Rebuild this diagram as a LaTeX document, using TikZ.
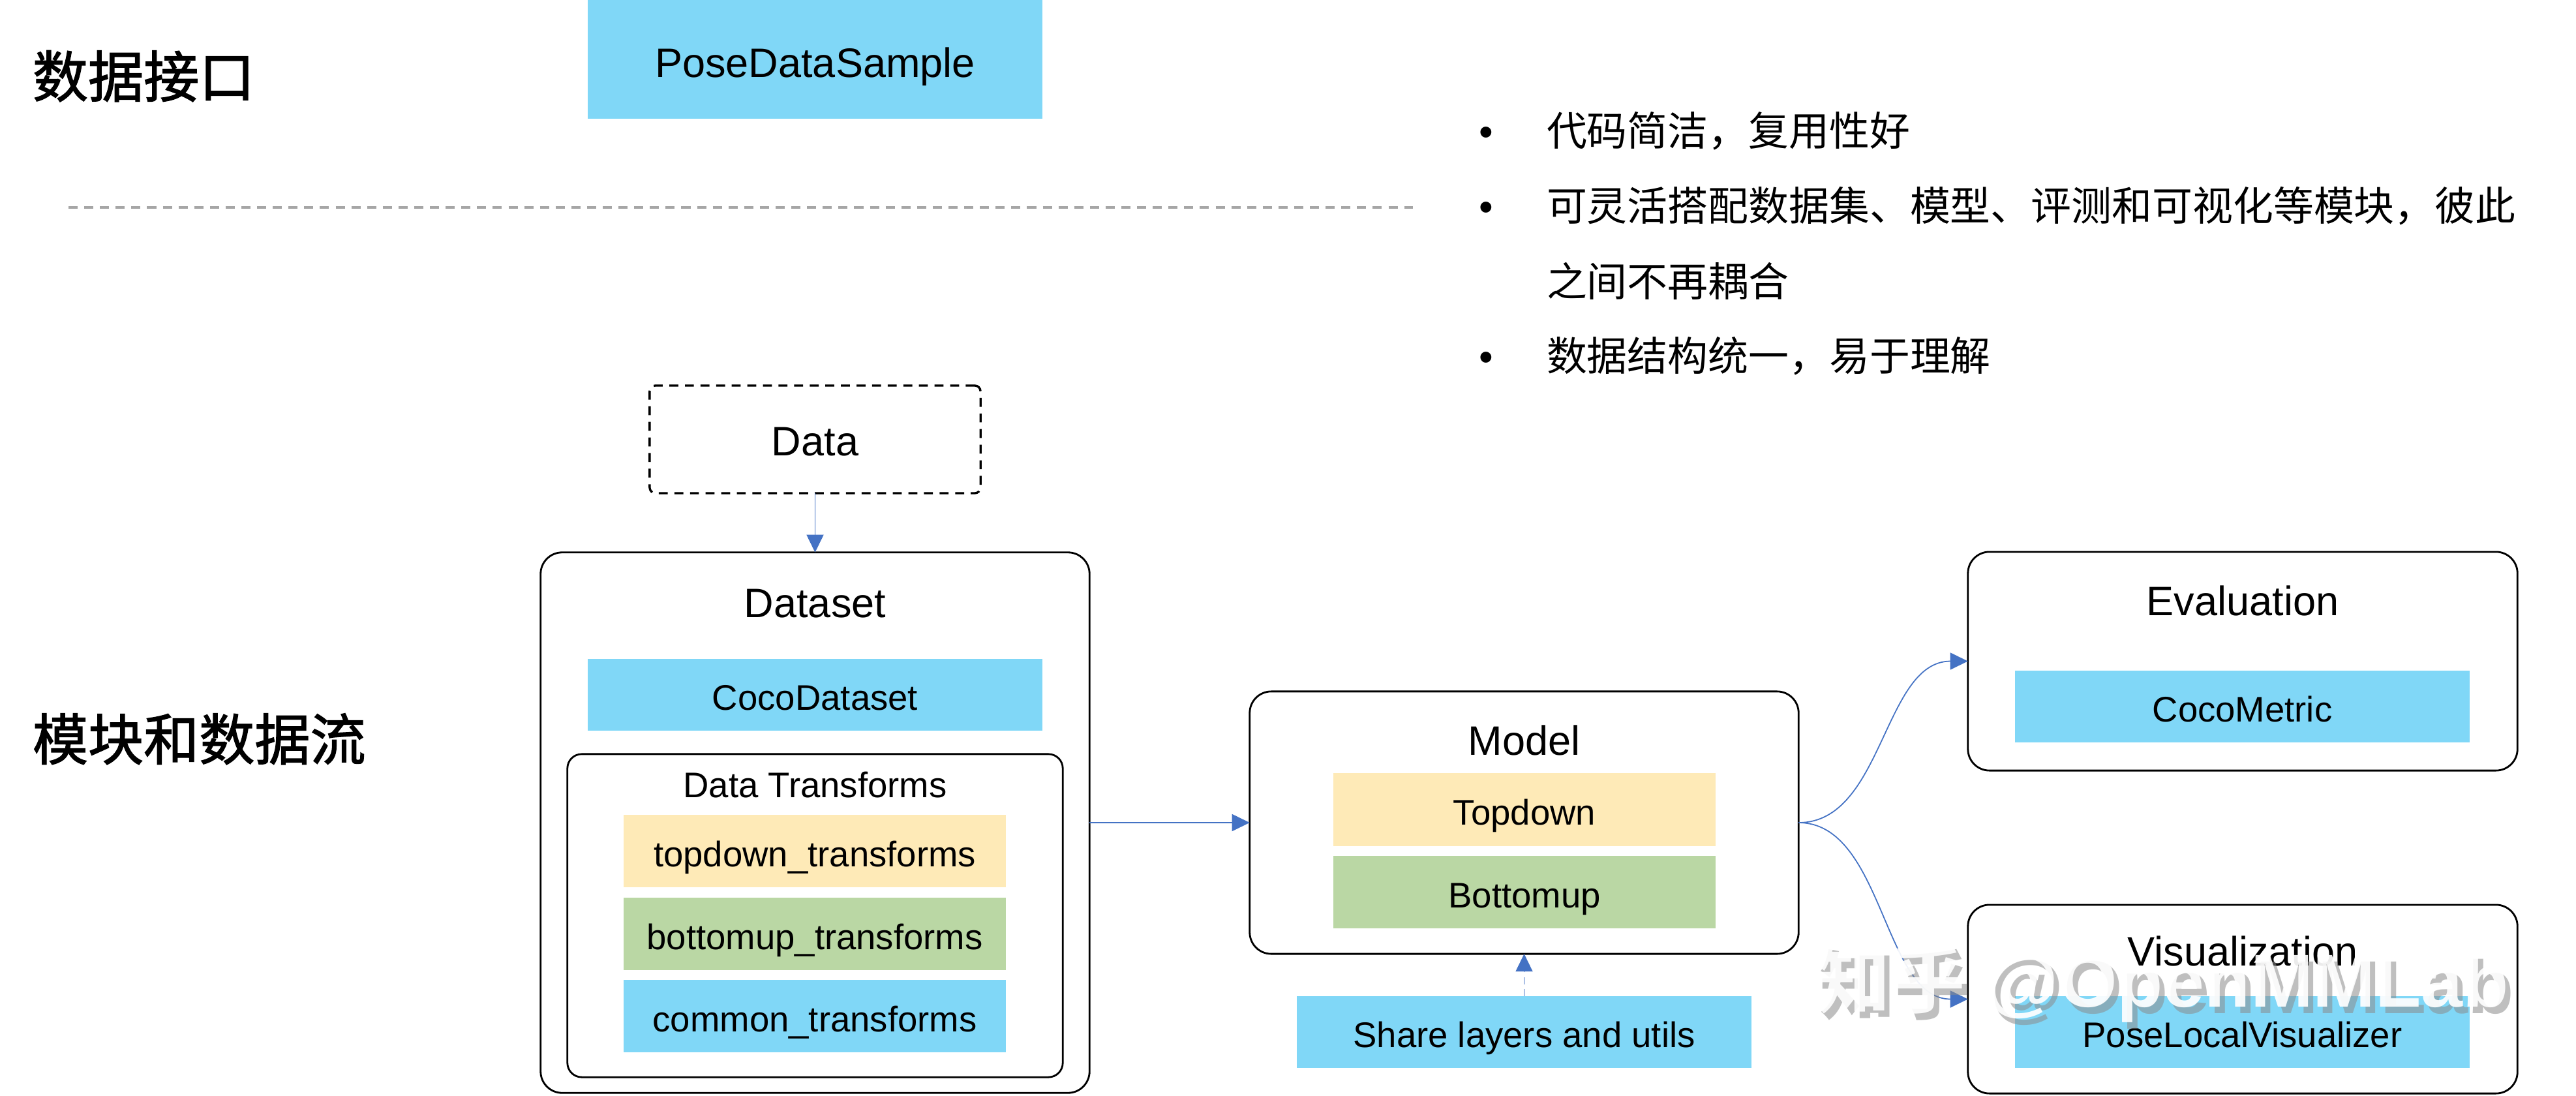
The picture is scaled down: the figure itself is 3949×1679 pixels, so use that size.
\documentclass[tikz,border=0pt]{standalone}
\usepackage{fontspec}
\setmainfont{Liberation Sans}
\newfontfamily\cjk{Noto Sans CJK SC}
\newfontfamily\cjkh{Noto Sans CJK SC}[FakeBold=1.6]
\usetikzlibrary{arrows.meta}
\definecolor{lb}{RGB}{128,215,247}
\definecolor{ly}{RGB}{254,234,183}
\definecolor{lg}{RGB}{186,215,164}
\definecolor{ab}{RGB}{68,114,196}
\definecolor{dg}{RGB}{166,166,166}
\definecolor{wmg}{RGB}{140,140,140}
\newcommand\bigf{\fontsize{17.93pt}{21pt}\selectfont}
\newcommand\smallf{\fontsize{15.5pt}{18pt}\selectfont}
\newcommand\headf{\cjkh\fontsize{24.2pt}{28pt}\selectfont}
\newcommand\bulf{\fontsize{17.6pt}{20pt}\selectfont}
\newcommand\wmf{\bfseries\fontsize{32.7pt}{36pt}\selectfont}
\begin{document}
\begin{tikzpicture}[x=0.01cm,y=-0.01cm,
  every node/.style={inner sep=0pt, outer sep=0pt},
  cont/.style={draw, line width=0.8pt, rounded corners=0.33cm},
  subbox/.style={draw, line width=0.8pt, rounded corners=0.22cm},
  fb/.style={fill=#1, font=\smallf, text height=13.6pt, text depth=0pt},
  bigt/.style={font=\bigf, text height=12.84pt, text depth=0pt},
  smallt/.style={font=\smallf, text height=11.1pt, text depth=0pt},
  conn/.style={draw=ab, line width=0.5pt, -{Triangle[length=7.7pt,width=7.4pt]}},
  head/.style={anchor=base west, font=\headf},
  bul/.style={anchor=base, font=\bulf},
  btxt/.style={anchor=base west, font=\cjk\bulf},
]
\fill[white] (0,0) rectangle (3949,1679);
\useasboundingbox (0,0) rectangle (3949,1679);

% headings
\node[head] (t1) at (50,149) {数据接口};
\node[head] (t2) at (50,1165) {模块和数据流};

% data interface
\node[fb=lb, bigt, text height=15.6pt, minimum width=6.97cm, minimum height=1.82cm] (pds) at (1249.5,91) {PoseDataSample};

% separator
\coordinate (dl1) at (105,318);
\coordinate (dl2) at (2166,318);
\draw[dg, line width=0.9pt, dash pattern=on 4pt off 2.85pt] (dl1) -- (dl2);

% bullets
\node[bul] (b1) at (2278,223.5) {•};
\node[bul] (b2) at (2278,338.5) {•};
\node[bul] (b4) at (2278,568.5) {•};
\node[btxt] (l1) at (2371,223.5) {代码简洁，复用性好};
\node[btxt] (l2) at (2371,338.5) {可灵活搭配数据集、模型、评测和可视化等模块，彼此};
\node[btxt] (l3) at (2371,454.5) {之间不再耦合};
\node[btxt] (l4) at (2371,568.5) {数据结构统一，易于理解};

% Data
\node[draw, line width=0.95pt, dash pattern=on 3.9pt off 2.9pt, rounded corners=0.09cm,
      minimum width=5.07cm, minimum height=1.65cm, bigt, text height=14.4pt] (data) at (1249.5,673.5) {Data};

% Dataset
\node[cont, minimum width=8.41cm, minimum height=8.28cm] (dataset) at (1249.5,1261) {};
\node[bigt] (dstitle) at (1249.5,924) {Dataset};
\node[fb=lb, minimum width=6.97cm, minimum height=1.10cm] (coco) at (1249.5,1065) {CocoDataset};
\node[subbox, minimum width=7.59cm, minimum height=4.95cm] (dt) at (1249.5,1403.5) {};
\node[smallt] (dttitle) at (1249.5,1203) {Data Transforms};
\node[fb=ly, minimum width=5.86cm, minimum height=1.11cm] (tdt) at (1249,1304.5) {topdown\_transforms};
\node[fb=lg, minimum width=5.86cm, minimum height=1.11cm] (but) at (1249,1431.5) {bottomup\_transforms};
\node[fb=lb, minimum width=5.86cm, minimum height=1.11cm] (cmt) at (1249,1557.5) {common\_transforms};

% Model
\node[cont, minimum width=8.41cm, minimum height=4.02cm] (model) at (2336.5,1261) {};
\node[bigt] (mtitle) at (2336.5,1135) {Model};
\node[fb=ly, minimum width=5.86cm, minimum height=1.12cm] (td) at (2337,1241) {Topdown};
\node[fb=lg, minimum width=5.86cm, minimum height=1.11cm] (bu) at (2337,1367.5) {Bottomup};
\node[fb=lb, minimum width=6.96cm, minimum height=1.10cm] (share) at (2336.5,1582) {Share layers and utils};

% Evaluation
\node[cont, minimum width=8.42cm, minimum height=3.35cm] (eval) at (3438,1013.5) {};
\node[bigt] (etitle) at (3438,921) {Evaluation};
\node[fb=lb, minimum width=6.97cm, minimum height=1.10cm] (cm) at (3437.5,1083) {CocoMetric};

% Visualization
\node[cont, minimum width=8.42cm, minimum height=2.89cm] (vis) at (3438,1531.5) {};
\node[bigt] (vtitle) at (3438,1458) {Visualization};
\node[fb=lb, minimum width=6.97cm, minimum height=1.10cm] (plv) at (3437.5,1582) {PoseLocalVisualizer};

% connectors
\draw[conn] (data.south) -- (dataset.north);
\draw[conn] (dataset.east) -- (model.west);
\draw[conn, dash pattern=on 3pt off 2.2pt] (share.north) -- (model.south);
\draw[conn] (model.east) .. controls +(130,0) and +(-130,0) .. (eval.west);
\draw[conn] (model.east) .. controls +(130,0) and +(-130,0) .. (vis.west);

% watermark
\node[anchor=base west, text=wmg, text opacity=0.55, font=\wmf] (wms) at (2790,1553) {{\cjk 知乎} @OpenMMLab};
\node[anchor=base west, text=white, text opacity=0.92, font=\wmf] (wm) at (2782,1543) {{\cjk 知乎} @OpenMMLab};
\end{tikzpicture}
\end{document}
